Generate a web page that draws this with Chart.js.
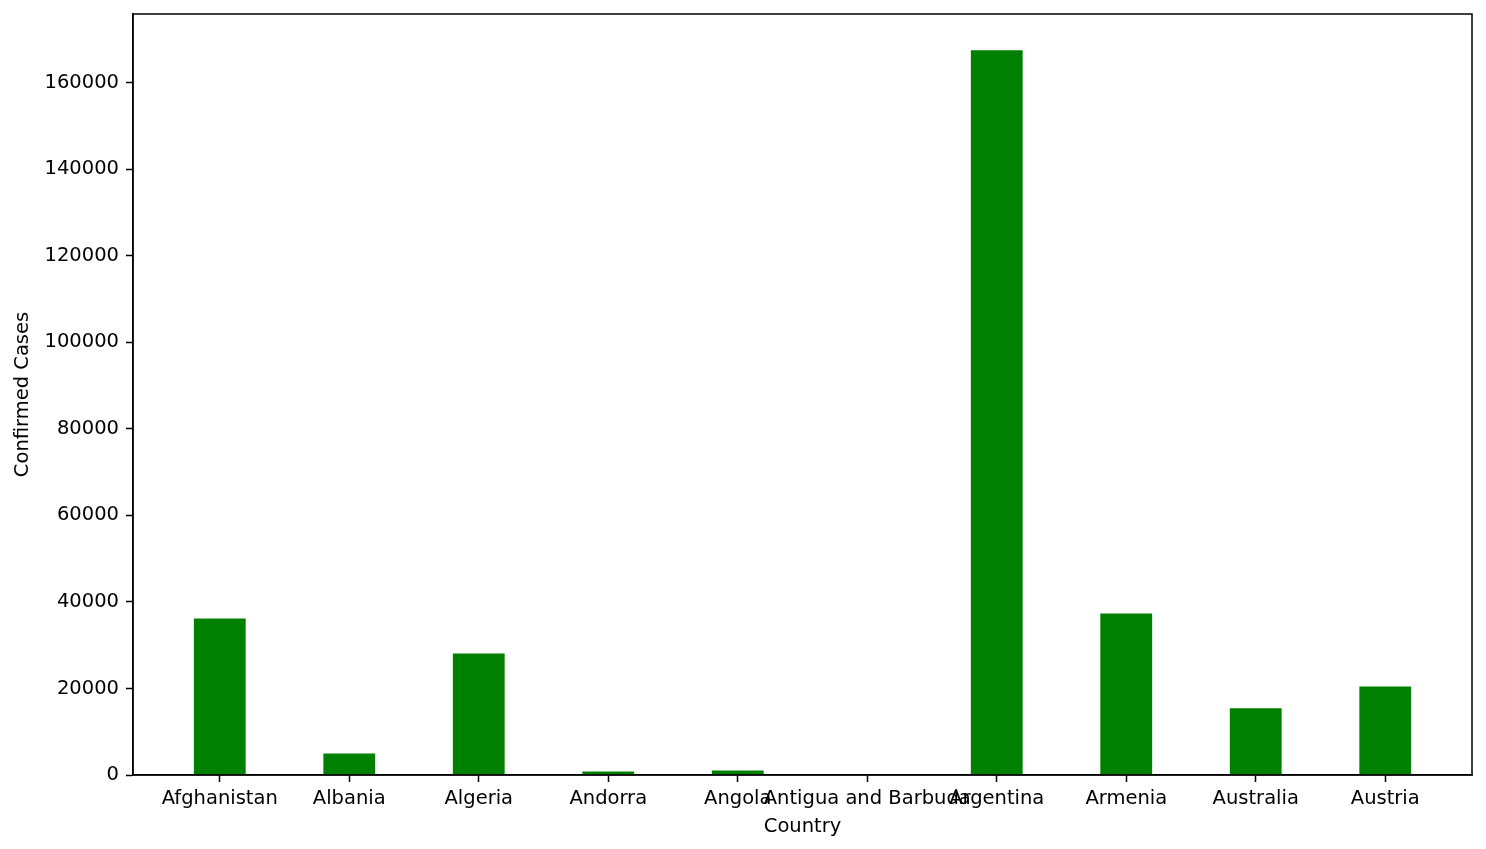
<!DOCTYPE html>
<html>
<head>
<meta charset="utf-8">
<script src="https://cdn.jsdelivr.net/npm/chart.js@4/dist/chart.umd.min.js"></script>
<style>
  html, body { margin: 0; padding: 0; background: #fff; }
  #wrap { width: 1486px; height: 849px; }
</style>
</head>
<body>
<div id="wrap"><canvas id="chart"></canvas></div>
<script>
// ── Data ──
const countries = ['Afghanistan', 'Albania', 'Algeria', 'Andorra', 'Angola',
    'Antigua and Barbuda', 'Argentina', 'Armenia', 'Australia', 'Austria'];
const confirmed = [36200, 4970, 28100, 820, 1050, 90, 167500, 37350, 15400, 20450];
const yTicks = [0, 20000, 40000, 60000, 80000, 100000, 120000, 140000, 160000];

const FONT = { family: 'DejaVu Sans', size: 19.5 };

// top + right spines
const frame = {
    id: 'frame',
    afterDraw(chart) {
        const { ctx, chartArea: a } = chart;
        ctx.save();
        ctx.strokeStyle = '#000';
        ctx.lineWidth = 1.5;
        ctx.strokeRect(a.left, a.top, a.right - a.left, a.bottom - a.top);
        ctx.restore();
    }
};

new Chart(document.getElementById('chart'), {
    type: 'bar',
    data: {
        datasets: [{
            data: countries.map((c, i) => ({ x: i, y: confirmed[i] })),
            backgroundColor: '#008000',
            borderWidth: 0,
            categoryPercentage: 1,
            barPercentage: 0.4
        }]
    },
    options: {
        responsive: true,
        maintainAspectRatio: false,
        animation: false,
        layout: { padding: { top: 14, right: 14, left: 0, bottom: 0 } },
        plugins: { legend: { display: false }, tooltip: { enabled: false } },
        scales: {
            x: {
                type: 'linear',
                offset: false,
                min: -0.67,
                max: 9.67,
                afterBuildTicks: s => { s.ticks = countries.map((c, i) => ({ value: i })); },
                afterFit: s => { s.height = 74; s.paddingLeft = 0; s.paddingRight = 0; },
                ticks: {
                    autoSkip: false, maxRotation: 0, color: '#000', font: FONT, padding: 5,
                    callback: v => countries[v]
                },
                grid: { offset: false, drawOnChartArea: false, drawTicks: true, tickLength: 7, tickColor: '#000', tickWidth: 1.5 },
                border: { display: true, color: '#000', width: 1.5 },
                title: { display: true, text: 'Country', color: '#000', font: FONT, padding: { top: 0, bottom: 10 } }
            },
            y: {
                min: 0,
                max: 175900,
                afterBuildTicks: s => { s.ticks = yTicks.map(v => ({ value: v })); },
                afterFit: s => { s.width = 133; s.paddingTop = 0; s.paddingBottom = 0; },
                ticks: { color: '#000', font: FONT, padding: 7, callback: v => String(v) },
                grid: { drawOnChartArea: false, drawTicks: true, tickLength: 7, tickColor: '#000', tickWidth: 1.5 },
                border: { display: true, color: '#000', width: 1.5 },
                title: { display: true, text: 'Confirmed Cases', color: '#000', font: FONT, padding: { top: 11, bottom: 4 } }
            }
        }
    },
    plugins: [frame]
});
</script>
</body>
</html>
